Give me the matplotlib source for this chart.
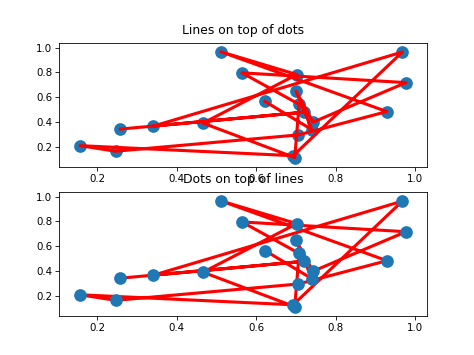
import numpy as np
import matplotlib
matplotlib.use('Agg')
import matplotlib.pyplot as plt

# points in the order the red line visits them
x = [0.258, 0.720, 0.341, 0.968, 0.693, 0.156, 0.246, 0.706, 0.929, 0.511,
     0.702, 0.466, 0.697, 0.708, 0.564, 0.977, 0.743, 0.700, 0.740, 0.622]
y = [0.342, 0.478, 0.366, 0.964, 0.127, 0.208, 0.163, 0.295, 0.483, 0.966,
     0.782, 0.390, 0.112, 0.542, 0.796, 0.717, 0.398, 0.649, 0.338, 0.565]
titles = ['Lines on top of dots', 'Dots on top of lines']

sc = 0.74  # picture is a 640x480 figure shrunk to 474x355
plt.rcParams['font.size'] = 10 * sc
plt.rcParams['axes.linewidth'] = 0.8 * sc
for ax_ in ('xtick', 'ytick'):
    plt.rcParams[ax_ + '.major.size'] = 3.5 * sc
    plt.rcParams[ax_ + '.major.width'] = 0.8 * sc
    plt.rcParams[ax_ + '.major.pad'] = 3.5 * sc

fig = plt.figure(figsize=(4.74, 3.55), dpi=100)

# top: default zorder, line drawn above the dots
ax1 = plt.subplot(211)
ax1.plot(x, y, 'r', lw=3 * sc)
ax1.scatter(x, y, s=120 * sc**2)
ax1.set_title(titles[0], fontsize=12 * sc)

# bottom: dots forced on top
ax2 = plt.subplot(212)
ax2.plot(x, y, 'r', zorder=1, lw=3 * sc)
ax2.scatter(x, y, s=120 * sc**2, zorder=2)
ax2.set_title(titles[1], fontsize=12 * sc)

for ax in (ax1, ax2):
    ax.set_xlim(0.104, 1.029)
    ax.set_ylim(0.037, 1.04)

fig.savefig('out.png', dpi=100)
